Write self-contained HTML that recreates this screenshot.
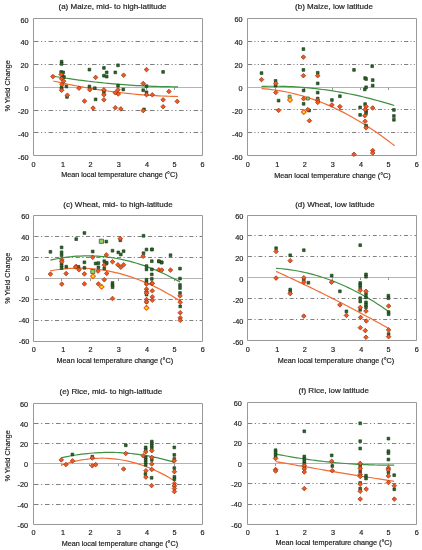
<!DOCTYPE html>
<html><head><meta charset="utf-8"><style>html,body{margin:0;padding:0;background:#fff;width:422px;height:550px;overflow:hidden}svg{display:block;will-change:transform}</style></head>
<body><svg width="422" height="550" viewBox="0 0 422 550"><rect width="422" height="550" fill="#fff"/><g font-family="Liberation Sans, sans-serif" stroke-linejoin="round"><line x1="34.00" y1="41.50" x2="202.50" y2="41.50" stroke="#808080" stroke-width="1" stroke-dasharray="4.6 2.5 1.2 2.4 1.2 2.6"/><line x1="34.00" y1="64.50" x2="202.50" y2="64.50" stroke="#808080" stroke-width="1" stroke-dasharray="4.6 2.5 1.2 2.4 1.2 2.6"/><line x1="34.00" y1="110.50" x2="202.50" y2="110.50" stroke="#808080" stroke-width="1" stroke-dasharray="4.6 2.5 1.2 2.4 1.2 2.6"/><line x1="34.00" y1="132.50" x2="202.50" y2="132.50" stroke="#808080" stroke-width="1" stroke-dasharray="4.6 2.5 1.2 2.4 1.2 2.6"/><line x1="33.60" y1="87.50" x2="202.60" y2="87.50" stroke="#b4b4b4" stroke-width="1.1"/><line x1="61.50" y1="87.50" x2="61.50" y2="90.00" stroke="#999" stroke-width="1"/><line x1="89.50" y1="87.50" x2="89.50" y2="90.00" stroke="#999" stroke-width="1"/><line x1="118.50" y1="87.50" x2="118.50" y2="90.00" stroke="#999" stroke-width="1"/><line x1="146.50" y1="87.50" x2="146.50" y2="90.00" stroke="#999" stroke-width="1"/><line x1="174.50" y1="87.50" x2="174.50" y2="90.00" stroke="#999" stroke-width="1"/><rect x="33.50" y="18.50" width="169.00" height="137.00" fill="none" stroke="#999" stroke-width="1"/><text transform="translate(28.60 22.50) scale(0.93 1)" text-anchor="end" font-size="7.9" fill="#1a1a1a" stroke="#1a1a1a" stroke-width="0.18">60</text><text transform="translate(28.60 45.40) scale(0.93 1)" text-anchor="end" font-size="7.9" fill="#1a1a1a" stroke="#1a1a1a" stroke-width="0.18">40</text><text transform="translate(28.60 68.30) scale(0.93 1)" text-anchor="end" font-size="7.9" fill="#1a1a1a" stroke="#1a1a1a" stroke-width="0.18">20</text><text transform="translate(28.60 91.20) scale(0.93 1)" text-anchor="end" font-size="7.9" fill="#1a1a1a" stroke="#1a1a1a" stroke-width="0.18">0</text><text transform="translate(28.60 114.10) scale(0.93 1)" text-anchor="end" font-size="7.9" fill="#1a1a1a" stroke="#1a1a1a" stroke-width="0.18">-20</text><text transform="translate(28.60 137.00) scale(0.93 1)" text-anchor="end" font-size="7.9" fill="#1a1a1a" stroke="#1a1a1a" stroke-width="0.18">-40</text><text transform="translate(28.60 159.90) scale(0.93 1)" text-anchor="end" font-size="7.9" fill="#1a1a1a" stroke="#1a1a1a" stroke-width="0.18">-60</text><text transform="translate(33.60 166.80) scale(0.93 1)" text-anchor="middle" font-size="7.8" fill="#1a1a1a" stroke="#1a1a1a" stroke-width="0.18">0</text><text transform="translate(63.07 166.80) scale(0.93 1)" text-anchor="middle" font-size="7.8" fill="#1a1a1a" stroke="#1a1a1a" stroke-width="0.18">1</text><text transform="translate(90.53 166.80) scale(0.93 1)" text-anchor="middle" font-size="7.8" fill="#1a1a1a" stroke="#1a1a1a" stroke-width="0.18">2</text><text transform="translate(118.70 166.80) scale(0.93 1)" text-anchor="middle" font-size="7.8" fill="#1a1a1a" stroke="#1a1a1a" stroke-width="0.18">3</text><text transform="translate(146.97 166.80) scale(0.93 1)" text-anchor="middle" font-size="7.8" fill="#1a1a1a" stroke="#1a1a1a" stroke-width="0.18">4</text><text transform="translate(174.43 166.80) scale(0.93 1)" text-anchor="middle" font-size="7.8" fill="#1a1a1a" stroke="#1a1a1a" stroke-width="0.18">5</text><text transform="translate(202.60 166.80) scale(0.93 1)" text-anchor="middle" font-size="7.8" fill="#1a1a1a" stroke="#1a1a1a" stroke-width="0.18">6</text><text x="61.20" y="177.00" font-size="7.22" fill="#1a1a1a" stroke="#1a1a1a" stroke-width="0.18">Mean local temperature change (°C)</text><text x="58.50" y="9.20" font-size="8" fill="#1a1a1a" stroke="#1a1a1a" stroke-width="0.18">(a) Maize, mid- to high-latitude</text><text x="0" y="0" transform="translate(10.3 85.90) rotate(-90)" text-anchor="middle" font-size="7.2" fill="#1a1a1a" stroke="#1a1a1a" stroke-width="0.18">% Yield Change</text><path d="M53.30 76.20 L56.50 76.73 L59.69 77.24 L62.89 77.74 L66.09 78.23 L69.29 78.70 L72.48 79.16 L75.68 79.61 L78.88 80.04 L82.08 80.46 L85.27 80.87 L88.47 81.26 L91.67 81.64 L94.87 82.00 L98.06 82.36 L101.26 82.70 L104.46 83.02 L107.66 83.33 L110.85 83.63 L114.05 83.92 L117.25 84.19 L120.45 84.45 L123.64 84.69 L126.84 84.92 L130.04 85.14 L133.24 85.35 L136.43 85.54 L139.63 85.72 L142.83 85.88 L146.03 86.03 L149.22 86.17 L152.42 86.29 L155.62 86.40 L158.82 86.50 L162.01 86.58 L165.21 86.65 L168.41 86.71 L171.61 86.75 L174.80 86.78 L178.00 86.80" fill="none" stroke="#3f9040" stroke-width="1.2"/><path d="M53.30 81.00 L56.50 81.73 L59.69 82.44 L62.89 83.14 L66.09 83.82 L69.29 84.48 L72.48 85.12 L75.68 85.74 L78.88 86.35 L82.08 86.94 L85.27 87.51 L88.47 88.07 L91.67 88.61 L94.87 89.13 L98.06 89.63 L101.26 90.12 L104.46 90.58 L107.66 91.03 L110.85 91.47 L114.05 91.88 L117.25 92.28 L120.45 92.66 L123.64 93.02 L126.84 93.36 L130.04 93.69 L133.24 94.00 L136.43 94.29 L139.63 94.57 L142.83 94.83 L146.03 95.07 L149.22 95.29 L152.42 95.49 L155.62 95.68 L158.82 95.85 L162.01 96.00 L165.21 96.14 L168.41 96.25 L171.61 96.35 L174.80 96.44 L178.00 96.50" fill="none" stroke="#f26b33" stroke-width="1.2"/><rect x="60.25" y="60.30" width="2.7" height="2.8" fill="#2a642a" stroke="#143814" stroke-width="0.6"/><rect x="60.25" y="62.50" width="2.7" height="2.8" fill="#2a642a" stroke="#143814" stroke-width="0.6"/><rect x="59.75" y="70.60" width="2.7" height="2.8" fill="#2a642a" stroke="#143814" stroke-width="0.6"/><rect x="61.85" y="71.00" width="2.7" height="2.8" fill="#2a642a" stroke="#143814" stroke-width="0.6"/><rect x="61.05" y="74.80" width="2.7" height="2.8" fill="#2a642a" stroke="#143814" stroke-width="0.6"/><rect x="62.65" y="75.60" width="2.7" height="2.8" fill="#2a642a" stroke="#143814" stroke-width="0.6"/><rect x="60.25" y="86.00" width="2.7" height="2.8" fill="#2a642a" stroke="#143814" stroke-width="0.6"/><rect x="60.25" y="87.60" width="2.7" height="2.8" fill="#2a642a" stroke="#143814" stroke-width="0.6"/><rect x="65.05" y="85.10" width="2.7" height="2.8" fill="#2a642a" stroke="#143814" stroke-width="0.6"/><rect x="65.65" y="95.50" width="2.7" height="2.8" fill="#2a642a" stroke="#143814" stroke-width="0.6"/><rect x="88.05" y="68.20" width="2.7" height="2.8" fill="#2a642a" stroke="#143814" stroke-width="0.6"/><rect x="102.55" y="66.50" width="2.7" height="2.8" fill="#2a642a" stroke="#143814" stroke-width="0.6"/><rect x="105.35" y="71.00" width="2.7" height="2.8" fill="#2a642a" stroke="#143814" stroke-width="0.6"/><rect x="102.55" y="74.30" width="2.7" height="2.8" fill="#2a642a" stroke="#143814" stroke-width="0.6"/><rect x="105.35" y="75.20" width="2.7" height="2.8" fill="#2a642a" stroke="#143814" stroke-width="0.6"/><rect x="88.05" y="85.10" width="2.7" height="2.8" fill="#2a642a" stroke="#143814" stroke-width="0.6"/><rect x="93.45" y="86.80" width="2.7" height="2.8" fill="#2a642a" stroke="#143814" stroke-width="0.6"/><rect x="102.55" y="90.90" width="2.7" height="2.8" fill="#2a642a" stroke="#143814" stroke-width="0.6"/><rect x="94.25" y="98.00" width="2.7" height="2.8" fill="#2a642a" stroke="#143814" stroke-width="0.6"/><rect x="116.65" y="63.90" width="2.7" height="2.8" fill="#2a642a" stroke="#143814" stroke-width="0.6"/><rect x="113.95" y="71.00" width="2.7" height="2.8" fill="#2a642a" stroke="#143814" stroke-width="0.6"/><rect x="161.75" y="70.50" width="2.7" height="2.8" fill="#2a642a" stroke="#143814" stroke-width="0.6"/><rect x="116.65" y="84.30" width="2.7" height="2.8" fill="#2a642a" stroke="#143814" stroke-width="0.6"/><rect x="121.95" y="88.10" width="2.7" height="2.8" fill="#2a642a" stroke="#143814" stroke-width="0.6"/><rect x="141.85" y="88.80" width="2.7" height="2.8" fill="#2a642a" stroke="#143814" stroke-width="0.6"/><rect x="145.15" y="84.80" width="2.7" height="2.8" fill="#2a642a" stroke="#143814" stroke-width="0.6"/><rect x="145.15" y="90.90" width="2.7" height="2.8" fill="#2a642a" stroke="#143814" stroke-width="0.6"/><rect x="142.65" y="108.00" width="2.7" height="2.8" fill="#2a642a" stroke="#143814" stroke-width="0.6"/><path d="M52.90 74.30 L55.20 76.60 L52.90 78.90 L50.60 76.60Z" fill="#f5581e" stroke="#8a3212" stroke-width="0.7"/><path d="M61.10 72.20 L63.40 74.50 L61.10 76.80 L58.80 74.50Z" fill="#f5581e" stroke="#8a3212" stroke-width="0.7"/><path d="M61.60 76.40 L63.90 78.70 L61.60 81.00 L59.30 78.70Z" fill="#f5581e" stroke="#8a3212" stroke-width="0.7"/><path d="M63.60 78.80 L65.90 81.10 L63.60 83.40 L61.30 81.10Z" fill="#f5581e" stroke="#8a3212" stroke-width="0.7"/><path d="M62.00 82.20 L64.30 84.50 L62.00 86.80 L59.70 84.50Z" fill="#f5581e" stroke="#8a3212" stroke-width="0.7"/><path d="M61.60 88.00 L63.90 90.30 L61.60 92.60 L59.30 90.30Z" fill="#f5581e" stroke="#8a3212" stroke-width="0.7"/><path d="M67.40 92.90 L69.70 95.20 L67.40 97.50 L65.10 95.20Z" fill="#f5581e" stroke="#8a3212" stroke-width="0.7"/><path d="M95.60 75.10 L97.90 77.40 L95.60 79.70 L93.30 77.40Z" fill="#f5581e" stroke="#8a3212" stroke-width="0.7"/><path d="M79.00 85.90 L81.30 88.20 L79.00 90.50 L76.70 88.20Z" fill="#f5581e" stroke="#8a3212" stroke-width="0.7"/><path d="M89.80 87.50 L92.10 89.80 L89.80 92.10 L87.50 89.80Z" fill="#f5581e" stroke="#8a3212" stroke-width="0.7"/><path d="M103.90 87.50 L106.20 89.80 L103.90 92.10 L101.60 89.80Z" fill="#f5581e" stroke="#8a3212" stroke-width="0.7"/><path d="M103.90 92.50 L106.20 94.80 L103.90 97.10 L101.60 94.80Z" fill="#f5581e" stroke="#8a3212" stroke-width="0.7"/><path d="M84.50 98.80 L86.80 101.10 L84.50 103.40 L82.20 101.10Z" fill="#f5581e" stroke="#8a3212" stroke-width="0.7"/><path d="M103.90 97.50 L106.20 99.80 L103.90 102.10 L101.60 99.80Z" fill="#f5581e" stroke="#8a3212" stroke-width="0.7"/><path d="M93.10 105.80 L95.40 108.10 L93.10 110.40 L90.80 108.10Z" fill="#f5581e" stroke="#8a3212" stroke-width="0.7"/><path d="M123.60 72.90 L125.90 75.20 L123.60 77.50 L121.30 75.20Z" fill="#f5581e" stroke="#8a3212" stroke-width="0.7"/><path d="M146.50 67.30 L148.80 69.60 L146.50 71.90 L144.20 69.60Z" fill="#f5581e" stroke="#8a3212" stroke-width="0.7"/><path d="M143.20 81.20 L145.50 83.50 L143.20 85.80 L140.90 83.50Z" fill="#f5581e" stroke="#8a3212" stroke-width="0.7"/><path d="M118.00 87.50 L120.30 89.80 L118.00 92.10 L115.70 89.80Z" fill="#f5581e" stroke="#8a3212" stroke-width="0.7"/><path d="M115.30 90.50 L117.60 92.80 L115.30 95.10 L113.00 92.80Z" fill="#f5581e" stroke="#8a3212" stroke-width="0.7"/><path d="M118.30 91.70 L120.60 94.00 L118.30 96.30 L116.00 94.00Z" fill="#f5581e" stroke="#8a3212" stroke-width="0.7"/><path d="M146.50 92.50 L148.80 94.80 L146.50 97.10 L144.20 94.80Z" fill="#f5581e" stroke="#8a3212" stroke-width="0.7"/><path d="M152.30 92.50 L154.60 94.80 L152.30 97.10 L150.00 94.80Z" fill="#f5581e" stroke="#8a3212" stroke-width="0.7"/><path d="M168.90 89.20 L171.20 91.50 L168.90 93.80 L166.60 91.50Z" fill="#f5581e" stroke="#8a3212" stroke-width="0.7"/><path d="M163.10 97.50 L165.40 99.80 L163.10 102.10 L160.80 99.80Z" fill="#f5581e" stroke="#8a3212" stroke-width="0.7"/><path d="M177.20 99.10 L179.50 101.40 L177.20 103.70 L174.90 101.40Z" fill="#f5581e" stroke="#8a3212" stroke-width="0.7"/><path d="M115.30 105.40 L117.60 107.70 L115.30 110.00 L113.00 107.70Z" fill="#f5581e" stroke="#8a3212" stroke-width="0.7"/><path d="M120.80 106.60 L123.10 108.90 L120.80 111.20 L118.50 108.90Z" fill="#f5581e" stroke="#8a3212" stroke-width="0.7"/><path d="M163.10 104.40 L165.40 106.70 L163.10 109.00 L160.80 106.70Z" fill="#f5581e" stroke="#8a3212" stroke-width="0.7"/><path d="M143.20 108.30 L145.50 110.60 L143.20 112.90 L140.90 110.60Z" fill="#f5581e" stroke="#8a3212" stroke-width="0.7"/></g><g font-family="Liberation Sans, sans-serif" stroke-linejoin="round"><line x1="248.00" y1="41.50" x2="416.50" y2="41.50" stroke="#808080" stroke-width="1" stroke-dasharray="4.2 2.2 1.1 2.3 1.1 2.1"/><line x1="248.00" y1="64.50" x2="416.50" y2="64.50" stroke="#808080" stroke-width="1" stroke-dasharray="4.2 2.2 1.1 2.3 1.1 2.1"/><line x1="248.00" y1="109.50" x2="416.50" y2="109.50" stroke="#808080" stroke-width="1" stroke-dasharray="4.2 2.2 1.1 2.3 1.1 2.1"/><line x1="248.00" y1="132.50" x2="416.50" y2="132.50" stroke="#808080" stroke-width="1" stroke-dasharray="4.2 2.2 1.1 2.3 1.1 2.1"/><line x1="247.70" y1="87.50" x2="416.80" y2="87.50" stroke="#b4b4b4" stroke-width="1.1"/><line x1="275.50" y1="87.50" x2="275.50" y2="90.00" stroke="#999" stroke-width="1"/><line x1="304.50" y1="87.50" x2="304.50" y2="90.00" stroke="#999" stroke-width="1"/><line x1="332.50" y1="87.50" x2="332.50" y2="90.00" stroke="#999" stroke-width="1"/><line x1="360.50" y1="87.50" x2="360.50" y2="90.00" stroke="#999" stroke-width="1"/><line x1="388.50" y1="87.50" x2="388.50" y2="90.00" stroke="#999" stroke-width="1"/><rect x="247.50" y="18.50" width="169.00" height="137.00" fill="none" stroke="#999" stroke-width="1"/><text transform="translate(242.70 21.90) scale(0.93 1)" text-anchor="end" font-size="7.9" fill="#1a1a1a" stroke="#1a1a1a" stroke-width="0.18">60</text><text transform="translate(242.70 44.83) scale(0.93 1)" text-anchor="end" font-size="7.9" fill="#1a1a1a" stroke="#1a1a1a" stroke-width="0.18">40</text><text transform="translate(242.70 67.77) scale(0.93 1)" text-anchor="end" font-size="7.9" fill="#1a1a1a" stroke="#1a1a1a" stroke-width="0.18">20</text><text transform="translate(242.70 90.70) scale(0.93 1)" text-anchor="end" font-size="7.9" fill="#1a1a1a" stroke="#1a1a1a" stroke-width="0.18">0</text><text transform="translate(242.70 113.63) scale(0.93 1)" text-anchor="end" font-size="7.9" fill="#1a1a1a" stroke="#1a1a1a" stroke-width="0.18">-20</text><text transform="translate(242.70 136.57) scale(0.93 1)" text-anchor="end" font-size="7.9" fill="#1a1a1a" stroke="#1a1a1a" stroke-width="0.18">-40</text><text transform="translate(242.70 159.50) scale(0.93 1)" text-anchor="end" font-size="7.9" fill="#1a1a1a" stroke="#1a1a1a" stroke-width="0.18">-60</text><text transform="translate(247.70 166.80) scale(0.93 1)" text-anchor="middle" font-size="7.8" fill="#1a1a1a" stroke="#1a1a1a" stroke-width="0.18">0</text><text transform="translate(277.18 166.80) scale(0.93 1)" text-anchor="middle" font-size="7.8" fill="#1a1a1a" stroke="#1a1a1a" stroke-width="0.18">1</text><text transform="translate(304.67 166.80) scale(0.93 1)" text-anchor="middle" font-size="7.8" fill="#1a1a1a" stroke="#1a1a1a" stroke-width="0.18">2</text><text transform="translate(332.85 166.80) scale(0.93 1)" text-anchor="middle" font-size="7.8" fill="#1a1a1a" stroke="#1a1a1a" stroke-width="0.18">3</text><text transform="translate(361.13 166.80) scale(0.93 1)" text-anchor="middle" font-size="7.8" fill="#1a1a1a" stroke="#1a1a1a" stroke-width="0.18">4</text><text transform="translate(388.62 166.80) scale(0.93 1)" text-anchor="middle" font-size="7.8" fill="#1a1a1a" stroke="#1a1a1a" stroke-width="0.18">5</text><text transform="translate(416.80 166.80) scale(0.93 1)" text-anchor="middle" font-size="7.8" fill="#1a1a1a" stroke="#1a1a1a" stroke-width="0.18">6</text><text x="274.30" y="177.50" font-size="7.22" fill="#1a1a1a" stroke="#1a1a1a" stroke-width="0.18">Mean local temperature change (°C)</text><text x="295.10" y="8.90" font-size="8" fill="#1a1a1a" stroke="#1a1a1a" stroke-width="0.18">(b) Maize, low latitude</text><path d="M261.50 86.40 L264.90 86.31 L268.31 86.26 L271.71 86.23 L275.11 86.24 L278.51 86.27 L281.92 86.34 L285.32 86.43 L288.72 86.56 L292.12 86.71 L295.53 86.90 L298.93 87.12 L302.33 87.36 L305.73 87.64 L309.14 87.95 L312.54 88.29 L315.94 88.66 L319.34 89.05 L322.75 89.48 L326.15 89.94 L329.55 90.43 L332.95 90.95 L336.36 91.50 L339.76 92.08 L343.16 92.70 L346.56 93.34 L349.97 94.01 L353.37 94.71 L356.77 95.44 L360.17 96.21 L363.58 97.00 L366.98 97.82 L370.38 98.68 L373.78 99.56 L377.19 100.47 L380.59 101.42 L383.99 102.39 L387.39 103.40 L390.80 104.43 L394.20 105.50" fill="none" stroke="#3f9040" stroke-width="1.2"/><path d="M261.50 88.60 L264.91 88.86 L268.33 89.19 L271.74 89.57 L275.15 90.03 L278.56 90.54 L281.98 91.12 L285.39 91.76 L288.80 92.47 L292.22 93.24 L295.63 94.07 L299.04 94.96 L302.45 95.92 L305.87 96.95 L309.28 98.03 L312.69 99.18 L316.11 100.39 L319.52 101.67 L322.93 103.01 L326.34 104.41 L329.76 105.88 L333.17 107.41 L336.58 109.00 L339.99 110.66 L343.41 112.38 L346.82 114.17 L350.23 116.01 L353.65 117.92 L357.06 119.90 L360.47 121.94 L363.88 124.04 L367.30 126.20 L370.71 128.43 L374.12 130.72 L377.54 133.07 L380.95 135.49 L384.36 137.97 L387.77 140.52 L391.19 143.13 L394.60 145.80" fill="none" stroke="#f26b33" stroke-width="1.2"/><rect x="302.05" y="47.70" width="2.7" height="2.8" fill="#2a642a" stroke="#143814" stroke-width="0.6"/><rect x="302.05" y="68.50" width="2.7" height="2.8" fill="#2a642a" stroke="#143814" stroke-width="0.6"/><rect x="260.15" y="71.70" width="2.7" height="2.8" fill="#2a642a" stroke="#143814" stroke-width="0.6"/><rect x="316.35" y="71.40" width="2.7" height="2.8" fill="#2a642a" stroke="#143814" stroke-width="0.6"/><rect x="274.25" y="79.50" width="2.7" height="2.8" fill="#2a642a" stroke="#143814" stroke-width="0.6"/><rect x="274.25" y="84.20" width="2.7" height="2.8" fill="#2a642a" stroke="#143814" stroke-width="0.6"/><rect x="316.35" y="82.00" width="2.7" height="2.8" fill="#2a642a" stroke="#143814" stroke-width="0.6"/><rect x="302.25" y="89.00" width="2.7" height="2.8" fill="#2a642a" stroke="#143814" stroke-width="0.6"/><rect x="316.35" y="91.20" width="2.7" height="2.8" fill="#2a642a" stroke="#143814" stroke-width="0.6"/><rect x="277.25" y="99.20" width="2.7" height="2.8" fill="#2a642a" stroke="#143814" stroke-width="0.6"/><rect x="302.25" y="102.40" width="2.7" height="2.8" fill="#2a642a" stroke="#143814" stroke-width="0.6"/><rect x="316.35" y="97.20" width="2.7" height="2.8" fill="#2a642a" stroke="#143814" stroke-width="0.6"/><rect x="307.75" y="109.10" width="2.7" height="2.8" fill="#2a642a" stroke="#143814" stroke-width="0.6"/><rect x="370.85" y="64.80" width="2.7" height="2.8" fill="#2a642a" stroke="#143814" stroke-width="0.6"/><rect x="352.65" y="68.50" width="2.7" height="2.8" fill="#2a642a" stroke="#143814" stroke-width="0.6"/><rect x="363.75" y="76.70" width="2.7" height="2.8" fill="#2a642a" stroke="#143814" stroke-width="0.6"/><rect x="364.75" y="77.60" width="2.7" height="2.8" fill="#2a642a" stroke="#143814" stroke-width="0.6"/><rect x="371.35" y="78.70" width="2.7" height="2.8" fill="#2a642a" stroke="#143814" stroke-width="0.6"/><rect x="371.35" y="84.20" width="2.7" height="2.8" fill="#2a642a" stroke="#143814" stroke-width="0.6"/><rect x="364.75" y="85.90" width="2.7" height="2.8" fill="#2a642a" stroke="#143814" stroke-width="0.6"/><rect x="363.45" y="88.00" width="2.7" height="2.8" fill="#2a642a" stroke="#143814" stroke-width="0.6"/><rect x="338.55" y="94.80" width="2.7" height="2.8" fill="#2a642a" stroke="#143814" stroke-width="0.6"/><rect x="330.55" y="98.60" width="2.7" height="2.8" fill="#2a642a" stroke="#143814" stroke-width="0.6"/><rect x="358.75" y="106.00" width="2.7" height="2.8" fill="#2a642a" stroke="#143814" stroke-width="0.6"/><rect x="363.75" y="102.70" width="2.7" height="2.8" fill="#2a642a" stroke="#143814" stroke-width="0.6"/><rect x="364.75" y="109.30" width="2.7" height="2.8" fill="#2a642a" stroke="#143814" stroke-width="0.6"/><rect x="364.75" y="111.80" width="2.7" height="2.8" fill="#2a642a" stroke="#143814" stroke-width="0.6"/><rect x="358.75" y="113.50" width="2.7" height="2.8" fill="#2a642a" stroke="#143814" stroke-width="0.6"/><rect x="364.75" y="124.30" width="2.7" height="2.8" fill="#2a642a" stroke="#143814" stroke-width="0.6"/><rect x="392.55" y="108.50" width="2.7" height="2.8" fill="#2a642a" stroke="#143814" stroke-width="0.6"/><rect x="392.55" y="114.60" width="2.7" height="2.8" fill="#2a642a" stroke="#143814" stroke-width="0.6"/><rect x="392.55" y="118.40" width="2.7" height="2.8" fill="#2a642a" stroke="#143814" stroke-width="0.6"/><rect x="288.10" y="95.20" width="3.00" height="3.00" fill="#96cc6a" stroke="#2e6a2e" stroke-width="0.8"/><rect x="306.30" y="97.00" width="3.00" height="3.00" fill="#96cc6a" stroke="#2e6a2e" stroke-width="0.8"/><path d="M303.40 54.80 L305.70 57.10 L303.40 59.40 L301.10 57.10Z" fill="#f5581e" stroke="#8a3212" stroke-width="0.7"/><path d="M261.50 77.30 L263.80 79.60 L261.50 81.90 L259.20 79.60Z" fill="#f5581e" stroke="#8a3212" stroke-width="0.7"/><path d="M303.40 73.40 L305.70 75.70 L303.40 78.00 L301.10 75.70Z" fill="#f5581e" stroke="#8a3212" stroke-width="0.7"/><path d="M317.70 73.40 L320.00 75.70 L317.70 78.00 L315.40 75.70Z" fill="#f5581e" stroke="#8a3212" stroke-width="0.7"/><path d="M275.80 81.10 L278.10 83.40 L275.80 85.70 L273.50 83.40Z" fill="#f5581e" stroke="#8a3212" stroke-width="0.7"/><path d="M275.80 90.20 L278.10 92.50 L275.80 94.80 L273.50 92.50Z" fill="#f5581e" stroke="#8a3212" stroke-width="0.7"/><path d="M303.60 96.40 L305.90 98.70 L303.60 101.00 L301.30 98.70Z" fill="#f5581e" stroke="#8a3212" stroke-width="0.7"/><path d="M317.70 98.00 L320.00 100.30 L317.70 102.60 L315.40 100.30Z" fill="#f5581e" stroke="#8a3212" stroke-width="0.7"/><path d="M317.70 100.10 L320.00 102.40 L317.70 104.70 L315.40 102.40Z" fill="#f5581e" stroke="#8a3212" stroke-width="0.7"/><path d="M278.60 108.10 L280.90 110.40 L278.60 112.70 L276.30 110.40Z" fill="#f5581e" stroke="#8a3212" stroke-width="0.7"/><path d="M307.80 107.30 L310.10 109.60 L307.80 111.90 L305.50 109.60Z" fill="#f5581e" stroke="#8a3212" stroke-width="0.7"/><path d="M309.40 118.40 L311.70 120.70 L309.40 123.00 L307.10 120.70Z" fill="#f5581e" stroke="#8a3212" stroke-width="0.7"/><path d="M331.90 102.60 L334.20 104.90 L331.90 107.20 L329.60 104.90Z" fill="#f5581e" stroke="#8a3212" stroke-width="0.7"/><path d="M339.90 104.30 L342.20 106.60 L339.90 108.90 L337.60 106.60Z" fill="#f5581e" stroke="#8a3212" stroke-width="0.7"/><path d="M366.10 104.30 L368.40 106.60 L366.10 108.90 L363.80 106.60Z" fill="#f5581e" stroke="#8a3212" stroke-width="0.7"/><path d="M365.10 107.30 L367.40 109.60 L365.10 111.90 L362.80 109.60Z" fill="#f5581e" stroke="#8a3212" stroke-width="0.7"/><path d="M372.70 105.60 L375.00 107.90 L372.70 110.20 L370.40 107.90Z" fill="#f5581e" stroke="#8a3212" stroke-width="0.7"/><path d="M364.80 113.40 L367.10 115.70 L364.80 118.00 L362.50 115.70Z" fill="#f5581e" stroke="#8a3212" stroke-width="0.7"/><path d="M365.10 118.90 L367.40 121.20 L365.10 123.50 L362.80 121.20Z" fill="#f5581e" stroke="#8a3212" stroke-width="0.7"/><path d="M366.10 125.50 L368.40 127.80 L366.10 130.10 L363.80 127.80Z" fill="#f5581e" stroke="#8a3212" stroke-width="0.7"/><path d="M354.00 152.00 L356.30 154.30 L354.00 156.60 L351.70 154.30Z" fill="#f5581e" stroke="#8a3212" stroke-width="0.7"/><path d="M372.70 148.20 L375.00 150.50 L372.70 152.80 L370.40 150.50Z" fill="#f5581e" stroke="#8a3212" stroke-width="0.7"/><path d="M372.70 150.70 L375.00 153.00 L372.70 155.30 L370.40 153.00Z" fill="#f5581e" stroke="#8a3212" stroke-width="0.7"/><path d="M290.00 97.50 L292.40 99.90 L290.00 102.30 L287.60 99.90Z" fill="#fff000" stroke="#f26020" stroke-width="1.2"/><path d="M303.80 109.60 L306.20 112.00 L303.80 114.40 L301.40 112.00Z" fill="#fff000" stroke="#f26020" stroke-width="1.2"/></g><g font-family="Liberation Sans, sans-serif" stroke-linejoin="round"><line x1="34.30" y1="236.50" x2="202.50" y2="236.50" stroke="#808080" stroke-width="1" stroke-dasharray="4.2 2.4 1.2 2.53"/><line x1="34.30" y1="257.50" x2="202.50" y2="257.50" stroke="#808080" stroke-width="1" stroke-dasharray="4.2 2.4 1.2 2.53"/><line x1="34.30" y1="299.50" x2="202.50" y2="299.50" stroke="#808080" stroke-width="1" stroke-dasharray="4.2 2.4 1.2 2.53"/><line x1="34.30" y1="320.50" x2="202.50" y2="320.50" stroke="#808080" stroke-width="1" stroke-dasharray="4.2 2.4 1.2 2.53"/><line x1="33.70" y1="278.50" x2="202.70" y2="278.50" stroke="#b4b4b4" stroke-width="1.1"/><line x1="61.50" y1="278.50" x2="61.50" y2="281.00" stroke="#999" stroke-width="1"/><line x1="90.50" y1="278.50" x2="90.50" y2="281.00" stroke="#999" stroke-width="1"/><line x1="118.50" y1="278.50" x2="118.50" y2="281.00" stroke="#999" stroke-width="1"/><line x1="146.50" y1="278.50" x2="146.50" y2="281.00" stroke="#999" stroke-width="1"/><line x1="174.50" y1="278.50" x2="174.50" y2="281.00" stroke="#999" stroke-width="1"/><rect x="33.50" y="215.50" width="169.00" height="126.00" fill="none" stroke="#999" stroke-width="1"/><text transform="translate(29.30 218.60) scale(0.93 1)" text-anchor="end" font-size="7.9" fill="#1a1a1a" stroke="#1a1a1a" stroke-width="0.18">60</text><text transform="translate(29.30 239.55) scale(0.93 1)" text-anchor="end" font-size="7.9" fill="#1a1a1a" stroke="#1a1a1a" stroke-width="0.18">40</text><text transform="translate(29.30 260.50) scale(0.93 1)" text-anchor="end" font-size="7.9" fill="#1a1a1a" stroke="#1a1a1a" stroke-width="0.18">20</text><text transform="translate(29.30 281.45) scale(0.93 1)" text-anchor="end" font-size="7.9" fill="#1a1a1a" stroke="#1a1a1a" stroke-width="0.18">0</text><text transform="translate(29.30 302.40) scale(0.93 1)" text-anchor="end" font-size="7.9" fill="#1a1a1a" stroke="#1a1a1a" stroke-width="0.18">-20</text><text transform="translate(29.30 323.35) scale(0.93 1)" text-anchor="end" font-size="7.9" fill="#1a1a1a" stroke="#1a1a1a" stroke-width="0.18">-40</text><text transform="translate(29.30 344.30) scale(0.93 1)" text-anchor="end" font-size="7.9" fill="#1a1a1a" stroke="#1a1a1a" stroke-width="0.18">-60</text><text transform="translate(33.70 351.60) scale(0.93 1)" text-anchor="middle" font-size="7.8" fill="#1a1a1a" stroke="#1a1a1a" stroke-width="0.18">0</text><text transform="translate(63.17 351.60) scale(0.93 1)" text-anchor="middle" font-size="7.8" fill="#1a1a1a" stroke="#1a1a1a" stroke-width="0.18">1</text><text transform="translate(90.63 351.60) scale(0.93 1)" text-anchor="middle" font-size="7.8" fill="#1a1a1a" stroke="#1a1a1a" stroke-width="0.18">2</text><text transform="translate(118.80 351.60) scale(0.93 1)" text-anchor="middle" font-size="7.8" fill="#1a1a1a" stroke="#1a1a1a" stroke-width="0.18">3</text><text transform="translate(147.07 351.60) scale(0.93 1)" text-anchor="middle" font-size="7.8" fill="#1a1a1a" stroke="#1a1a1a" stroke-width="0.18">4</text><text transform="translate(174.53 351.60) scale(0.93 1)" text-anchor="middle" font-size="7.8" fill="#1a1a1a" stroke="#1a1a1a" stroke-width="0.18">5</text><text transform="translate(202.70 351.60) scale(0.93 1)" text-anchor="middle" font-size="7.8" fill="#1a1a1a" stroke="#1a1a1a" stroke-width="0.18">6</text><text x="56.60" y="362.50" font-size="7.22" fill="#1a1a1a" stroke="#1a1a1a" stroke-width="0.18">Mean local temperature change (°C)</text><text x="63.30" y="207.30" font-size="8" fill="#1a1a1a" stroke="#1a1a1a" stroke-width="0.18">(c) Wheat, mid- to high-latitude</text><text x="0" y="0" transform="translate(9.7 278.20) rotate(-90)" text-anchor="middle" font-size="7.2" fill="#1a1a1a" stroke="#1a1a1a" stroke-width="0.18">% Yield Change</text><path d="M50.40 260.10 L53.72 259.38 L57.05 258.72 L60.37 258.14 L63.69 257.62 L67.02 257.17 L70.34 256.78 L73.66 256.46 L76.98 256.22 L80.31 256.03 L83.63 255.92 L86.95 255.87 L90.28 255.89 L93.60 255.98 L96.92 256.14 L100.25 256.36 L103.57 256.65 L106.89 257.01 L110.22 257.44 L113.54 257.93 L116.86 258.49 L120.18 259.12 L123.51 259.82 L126.83 260.58 L130.15 261.42 L133.48 262.32 L136.80 263.28 L140.12 264.32 L143.45 265.42 L146.77 266.59 L150.09 267.83 L153.42 269.13 L156.74 270.50 L160.06 271.94 L163.38 273.45 L166.71 275.02 L170.03 276.67 L173.35 278.38 L176.68 280.15 L180.00 282.00" fill="none" stroke="#3f9040" stroke-width="1.2"/><path d="M50.20 270.80 L53.53 270.23 L56.86 269.73 L60.18 269.30 L63.51 268.94 L66.84 268.65 L70.17 268.43 L73.50 268.28 L76.83 268.21 L80.15 268.20 L83.48 268.27 L86.81 268.40 L90.14 268.61 L93.47 268.89 L96.79 269.24 L100.12 269.66 L103.45 270.15 L106.78 270.71 L110.11 271.34 L113.44 272.05 L116.76 272.82 L120.09 273.66 L123.42 274.58 L126.75 275.57 L130.08 276.63 L133.41 277.75 L136.73 278.95 L140.06 280.22 L143.39 281.57 L146.72 282.98 L150.05 284.46 L153.37 286.02 L156.70 287.64 L160.03 289.34 L163.36 291.10 L166.69 292.94 L170.02 294.85 L173.34 296.83 L176.67 298.88 L180.00 301.00" fill="none" stroke="#f26b33" stroke-width="1.2"/><rect x="83.05" y="231.60" width="2.7" height="2.8" fill="#2a642a" stroke="#143814" stroke-width="0.6"/><rect x="74.85" y="237.70" width="2.7" height="2.8" fill="#2a642a" stroke="#143814" stroke-width="0.6"/><rect x="104.95" y="240.20" width="2.7" height="2.8" fill="#2a642a" stroke="#143814" stroke-width="0.6"/><rect x="49.05" y="250.40" width="2.7" height="2.8" fill="#2a642a" stroke="#143814" stroke-width="0.6"/><rect x="60.25" y="246.00" width="2.7" height="2.8" fill="#2a642a" stroke="#143814" stroke-width="0.6"/><rect x="60.25" y="250.90" width="2.7" height="2.8" fill="#2a642a" stroke="#143814" stroke-width="0.6"/><rect x="60.25" y="253.80" width="2.7" height="2.8" fill="#2a642a" stroke="#143814" stroke-width="0.6"/><rect x="60.25" y="261.80" width="2.7" height="2.8" fill="#2a642a" stroke="#143814" stroke-width="0.6"/><rect x="60.25" y="264.20" width="2.7" height="2.8" fill="#2a642a" stroke="#143814" stroke-width="0.6"/><rect x="60.25" y="266.60" width="2.7" height="2.8" fill="#2a642a" stroke="#143814" stroke-width="0.6"/><rect x="64.95" y="265.30" width="2.7" height="2.8" fill="#2a642a" stroke="#143814" stroke-width="0.6"/><rect x="91.35" y="250.10" width="2.7" height="2.8" fill="#2a642a" stroke="#143814" stroke-width="0.6"/><rect x="83.05" y="260.90" width="2.7" height="2.8" fill="#2a642a" stroke="#143814" stroke-width="0.6"/><rect x="77.15" y="265.40" width="2.7" height="2.8" fill="#2a642a" stroke="#143814" stroke-width="0.6"/><rect x="83.05" y="266.40" width="2.7" height="2.8" fill="#2a642a" stroke="#143814" stroke-width="0.6"/><rect x="94.25" y="262.10" width="2.7" height="2.8" fill="#2a642a" stroke="#143814" stroke-width="0.6"/><rect x="97.05" y="261.70" width="2.7" height="2.8" fill="#2a642a" stroke="#143814" stroke-width="0.6"/><rect x="102.95" y="259.80" width="2.7" height="2.8" fill="#2a642a" stroke="#143814" stroke-width="0.6"/><rect x="104.95" y="262.10" width="2.7" height="2.8" fill="#2a642a" stroke="#143814" stroke-width="0.6"/><rect x="97.05" y="265.90" width="2.7" height="2.8" fill="#2a642a" stroke="#143814" stroke-width="0.6"/><rect x="102.95" y="267.00" width="2.7" height="2.8" fill="#2a642a" stroke="#143814" stroke-width="0.6"/><rect x="142.15" y="234.40" width="2.7" height="2.8" fill="#2a642a" stroke="#143814" stroke-width="0.6"/><rect x="118.95" y="238.90" width="2.7" height="2.8" fill="#2a642a" stroke="#143814" stroke-width="0.6"/><rect x="111.15" y="249.30" width="2.7" height="2.8" fill="#2a642a" stroke="#143814" stroke-width="0.6"/><rect x="116.95" y="251.00" width="2.7" height="2.8" fill="#2a642a" stroke="#143814" stroke-width="0.6"/><rect x="119.45" y="253.10" width="2.7" height="2.8" fill="#2a642a" stroke="#143814" stroke-width="0.6"/><rect x="122.25" y="249.80" width="2.7" height="2.8" fill="#2a642a" stroke="#143814" stroke-width="0.6"/><rect x="145.15" y="248.10" width="2.7" height="2.8" fill="#2a642a" stroke="#143814" stroke-width="0.6"/><rect x="150.45" y="248.10" width="2.7" height="2.8" fill="#2a642a" stroke="#143814" stroke-width="0.6"/><rect x="142.15" y="251.80" width="2.7" height="2.8" fill="#2a642a" stroke="#143814" stroke-width="0.6"/><rect x="169.15" y="253.80" width="2.7" height="2.8" fill="#2a642a" stroke="#143814" stroke-width="0.6"/><rect x="150.45" y="259.80" width="2.7" height="2.8" fill="#2a642a" stroke="#143814" stroke-width="0.6"/><rect x="157.55" y="259.80" width="2.7" height="2.8" fill="#2a642a" stroke="#143814" stroke-width="0.6"/><rect x="160.35" y="260.90" width="2.7" height="2.8" fill="#2a642a" stroke="#143814" stroke-width="0.6"/><rect x="145.15" y="264.70" width="2.7" height="2.8" fill="#2a642a" stroke="#143814" stroke-width="0.6"/><rect x="145.15" y="268.00" width="2.7" height="2.8" fill="#2a642a" stroke="#143814" stroke-width="0.6"/><rect x="150.45" y="268.00" width="2.7" height="2.8" fill="#2a642a" stroke="#143814" stroke-width="0.6"/><rect x="150.45" y="273.00" width="2.7" height="2.8" fill="#2a642a" stroke="#143814" stroke-width="0.6"/><rect x="145.15" y="278.30" width="2.7" height="2.8" fill="#2a642a" stroke="#143814" stroke-width="0.6"/><rect x="150.45" y="277.50" width="2.7" height="2.8" fill="#2a642a" stroke="#143814" stroke-width="0.6"/><rect x="105.35" y="261.40" width="2.7" height="2.8" fill="#2a642a" stroke="#143814" stroke-width="0.6"/><rect x="111.15" y="281.60" width="2.7" height="2.8" fill="#2a642a" stroke="#143814" stroke-width="0.6"/><rect x="111.15" y="283.90" width="2.7" height="2.8" fill="#2a642a" stroke="#143814" stroke-width="0.6"/><rect x="111.25" y="285.80" width="2.7" height="2.8" fill="#2a642a" stroke="#143814" stroke-width="0.6"/><rect x="145.15" y="281.10" width="2.7" height="2.8" fill="#2a642a" stroke="#143814" stroke-width="0.6"/><rect x="145.15" y="293.20" width="2.7" height="2.8" fill="#2a642a" stroke="#143814" stroke-width="0.6"/><rect x="145.15" y="300.50" width="2.7" height="2.8" fill="#2a642a" stroke="#143814" stroke-width="0.6"/><rect x="150.65" y="248.00" width="2.7" height="2.8" fill="#2a642a" stroke="#143814" stroke-width="0.6"/><rect x="157.65" y="260.00" width="2.7" height="2.8" fill="#2a642a" stroke="#143814" stroke-width="0.6"/><rect x="160.25" y="261.20" width="2.7" height="2.8" fill="#2a642a" stroke="#143814" stroke-width="0.6"/><rect x="178.65" y="267.20" width="2.7" height="2.8" fill="#2a642a" stroke="#143814" stroke-width="0.6"/><rect x="178.65" y="277.20" width="2.7" height="2.8" fill="#2a642a" stroke="#143814" stroke-width="0.6"/><rect x="178.65" y="283.60" width="2.7" height="2.8" fill="#2a642a" stroke="#143814" stroke-width="0.6"/><rect x="178.65" y="286.60" width="2.7" height="2.8" fill="#2a642a" stroke="#143814" stroke-width="0.6"/><rect x="178.65" y="291.60" width="2.7" height="2.8" fill="#2a642a" stroke="#143814" stroke-width="0.6"/><rect x="178.85" y="305.00" width="2.7" height="2.8" fill="#2a642a" stroke="#143814" stroke-width="0.6"/><rect x="99.30" y="239.20" width="4.20" height="4.20" fill="#96cc6a" stroke="#2e6a2e" stroke-width="0.8"/><rect x="90.80" y="269.50" width="4.00" height="4.00" fill="#96cc6a" stroke="#2e6a2e" stroke-width="0.8"/><path d="M61.80 257.60 L64.10 259.90 L61.80 262.20 L59.50 259.90Z" fill="#f5581e" stroke="#8a3212" stroke-width="0.7"/><path d="M61.80 259.30 L64.10 261.60 L61.80 263.90 L59.50 261.60Z" fill="#f5581e" stroke="#8a3212" stroke-width="0.7"/><path d="M106.30 252.60 L108.60 254.90 L106.30 257.20 L104.00 254.90Z" fill="#f5581e" stroke="#8a3212" stroke-width="0.7"/><path d="M92.70 255.00 L95.00 257.30 L92.70 259.60 L90.40 257.30Z" fill="#f5581e" stroke="#8a3212" stroke-width="0.7"/><path d="M76.20 264.20 L78.50 266.50 L76.20 268.80 L73.90 266.50Z" fill="#f5581e" stroke="#8a3212" stroke-width="0.7"/><path d="M79.00 267.50 L81.30 269.80 L79.00 272.10 L76.70 269.80Z" fill="#f5581e" stroke="#8a3212" stroke-width="0.7"/><path d="M98.00 268.80 L100.30 271.10 L98.00 273.40 L95.70 271.10Z" fill="#f5581e" stroke="#8a3212" stroke-width="0.7"/><path d="M104.30 262.80 L106.60 265.10 L104.30 267.40 L102.00 265.10Z" fill="#f5581e" stroke="#8a3212" stroke-width="0.7"/><path d="M50.40 271.80 L52.70 274.10 L50.40 276.40 L48.10 274.10Z" fill="#f5581e" stroke="#8a3212" stroke-width="0.7"/><path d="M66.10 271.30 L68.40 273.60 L66.10 275.90 L63.80 273.60Z" fill="#f5581e" stroke="#8a3212" stroke-width="0.7"/><path d="M84.40 271.60 L86.70 273.90 L84.40 276.20 L82.10 273.90Z" fill="#f5581e" stroke="#8a3212" stroke-width="0.7"/><path d="M106.70 271.10 L109.00 273.40 L106.70 275.70 L104.40 273.40Z" fill="#f5581e" stroke="#8a3212" stroke-width="0.7"/><path d="M61.80 281.80 L64.10 284.10 L61.80 286.40 L59.50 284.10Z" fill="#f5581e" stroke="#8a3212" stroke-width="0.7"/><path d="M84.40 281.60 L86.70 283.90 L84.40 286.20 L82.10 283.90Z" fill="#f5581e" stroke="#8a3212" stroke-width="0.7"/><path d="M98.40 281.60 L100.70 283.90 L98.40 286.20 L96.10 283.90Z" fill="#f5581e" stroke="#8a3212" stroke-width="0.7"/><path d="M104.30 277.40 L106.60 279.70 L104.30 282.00 L102.00 279.70Z" fill="#f5581e" stroke="#8a3212" stroke-width="0.7"/><path d="M75.60 264.70 L77.90 267.00 L75.60 269.30 L73.30 267.00Z" fill="#f5581e" stroke="#8a3212" stroke-width="0.7"/><path d="M120.30 236.30 L122.60 238.60 L120.30 240.90 L118.00 238.60Z" fill="#f5581e" stroke="#8a3212" stroke-width="0.7"/><path d="M143.10 253.90 L145.40 256.20 L143.10 258.50 L140.80 256.20Z" fill="#f5581e" stroke="#8a3212" stroke-width="0.7"/><path d="M112.50 259.50 L114.80 261.80 L112.50 264.10 L110.20 261.80Z" fill="#f5581e" stroke="#8a3212" stroke-width="0.7"/><path d="M117.90 262.50 L120.20 264.80 L117.90 267.10 L115.60 264.80Z" fill="#f5581e" stroke="#8a3212" stroke-width="0.7"/><path d="M120.80 265.00 L123.10 267.30 L120.80 269.60 L118.50 267.30Z" fill="#f5581e" stroke="#8a3212" stroke-width="0.7"/><path d="M123.60 262.50 L125.90 264.80 L123.60 267.10 L121.30 264.80Z" fill="#f5581e" stroke="#8a3212" stroke-width="0.7"/><path d="M158.90 267.50 L161.20 269.80 L158.90 272.10 L156.60 269.80Z" fill="#f5581e" stroke="#8a3212" stroke-width="0.7"/><path d="M161.70 267.80 L164.00 270.10 L161.70 272.40 L159.40 270.10Z" fill="#f5581e" stroke="#8a3212" stroke-width="0.7"/><path d="M170.50 267.80 L172.80 270.10 L170.50 272.40 L168.20 270.10Z" fill="#f5581e" stroke="#8a3212" stroke-width="0.7"/><path d="M151.80 281.10 L154.10 283.40 L151.80 285.70 L149.50 283.40Z" fill="#f5581e" stroke="#8a3212" stroke-width="0.7"/><path d="M112.50 296.20 L114.80 298.50 L112.50 300.80 L110.20 298.50Z" fill="#f5581e" stroke="#8a3212" stroke-width="0.7"/><path d="M146.50 286.80 L148.80 289.10 L146.50 291.40 L144.20 289.10Z" fill="#f5581e" stroke="#8a3212" stroke-width="0.7"/><path d="M146.50 289.30 L148.80 291.60 L146.50 293.90 L144.20 291.60Z" fill="#f5581e" stroke="#8a3212" stroke-width="0.7"/><path d="M146.50 290.90 L148.80 293.20 L146.50 295.50 L144.20 293.20Z" fill="#f5581e" stroke="#8a3212" stroke-width="0.7"/><path d="M146.50 297.20 L148.80 299.50 L146.50 301.80 L144.20 299.50Z" fill="#f5581e" stroke="#8a3212" stroke-width="0.7"/><path d="M146.50 299.60 L148.80 301.90 L146.50 304.20 L144.20 301.90Z" fill="#f5581e" stroke="#8a3212" stroke-width="0.7"/><path d="M152.30 281.00 L154.60 283.30 L152.30 285.60 L150.00 283.30Z" fill="#f5581e" stroke="#8a3212" stroke-width="0.7"/><path d="M152.30 288.50 L154.60 290.80 L152.30 293.10 L150.00 290.80Z" fill="#f5581e" stroke="#8a3212" stroke-width="0.7"/><path d="M152.30 294.60 L154.60 296.90 L152.30 299.20 L150.00 296.90Z" fill="#f5581e" stroke="#8a3212" stroke-width="0.7"/><path d="M152.30 297.90 L154.60 300.20 L152.30 302.50 L150.00 300.20Z" fill="#f5581e" stroke="#8a3212" stroke-width="0.7"/><path d="M146.50 281.80 L148.80 284.10 L146.50 286.40 L144.20 284.10Z" fill="#f5581e" stroke="#8a3212" stroke-width="0.7"/><path d="M180.00 293.70 L182.30 296.00 L180.00 298.30 L177.70 296.00Z" fill="#f5581e" stroke="#8a3212" stroke-width="0.7"/><path d="M180.20 300.00 L182.50 302.30 L180.20 304.60 L177.90 302.30Z" fill="#f5581e" stroke="#8a3212" stroke-width="0.7"/><path d="M180.20 310.40 L182.50 312.70 L180.20 315.00 L177.90 312.70Z" fill="#f5581e" stroke="#8a3212" stroke-width="0.7"/><path d="M180.20 315.50 L182.50 317.80 L180.20 320.10 L177.90 317.80Z" fill="#f5581e" stroke="#8a3212" stroke-width="0.7"/><path d="M180.20 318.00 L182.50 320.30 L180.20 322.60 L177.90 320.30Z" fill="#f5581e" stroke="#8a3212" stroke-width="0.7"/><path d="M93.00 273.80 L95.40 276.20 L93.00 278.60 L90.60 276.20Z" fill="#fff000" stroke="#f26020" stroke-width="1.2"/><path d="M101.60 284.40 L104.00 286.80 L101.60 289.20 L99.20 286.80Z" fill="#fff000" stroke="#f26020" stroke-width="1.2"/><path d="M146.50 305.40 L148.90 307.80 L146.50 310.20 L144.10 307.80Z" fill="#fff000" stroke="#f26020" stroke-width="1.2"/></g><g font-family="Liberation Sans, sans-serif" stroke-linejoin="round"><line x1="248.00" y1="235.50" x2="416.50" y2="235.50" stroke="#808080" stroke-width="1" stroke-dasharray="4.0 2.4 1.2 2.8"/><line x1="248.00" y1="256.50" x2="416.50" y2="256.50" stroke="#808080" stroke-width="1" stroke-dasharray="4.0 2.4 1.2 2.8"/><line x1="248.00" y1="298.50" x2="416.50" y2="298.50" stroke="#808080" stroke-width="1" stroke-dasharray="4.0 2.4 1.2 2.8"/><line x1="248.00" y1="319.50" x2="416.50" y2="319.50" stroke="#808080" stroke-width="1" stroke-dasharray="4.0 2.4 1.2 2.8"/><line x1="247.80" y1="277.50" x2="416.80" y2="277.50" stroke="#b4b4b4" stroke-width="1.1"/><line x1="275.50" y1="277.50" x2="275.50" y2="280.00" stroke="#999" stroke-width="1"/><line x1="304.50" y1="277.50" x2="304.50" y2="280.00" stroke="#999" stroke-width="1"/><line x1="332.50" y1="277.50" x2="332.50" y2="280.00" stroke="#999" stroke-width="1"/><line x1="360.50" y1="277.50" x2="360.50" y2="280.00" stroke="#999" stroke-width="1"/><line x1="388.50" y1="277.50" x2="388.50" y2="280.00" stroke="#999" stroke-width="1"/><rect x="247.50" y="215.50" width="169.00" height="125.00" fill="none" stroke="#999" stroke-width="1"/><text transform="translate(243.40 219.20) scale(0.93 1)" text-anchor="end" font-size="7.9" fill="#1a1a1a" stroke="#1a1a1a" stroke-width="0.18">60</text><text transform="translate(243.40 240.12) scale(0.93 1)" text-anchor="end" font-size="7.9" fill="#1a1a1a" stroke="#1a1a1a" stroke-width="0.18">40</text><text transform="translate(243.40 261.03) scale(0.93 1)" text-anchor="end" font-size="7.9" fill="#1a1a1a" stroke="#1a1a1a" stroke-width="0.18">20</text><text transform="translate(243.40 281.95) scale(0.93 1)" text-anchor="end" font-size="7.9" fill="#1a1a1a" stroke="#1a1a1a" stroke-width="0.18">0</text><text transform="translate(243.40 302.87) scale(0.93 1)" text-anchor="end" font-size="7.9" fill="#1a1a1a" stroke="#1a1a1a" stroke-width="0.18">-20</text><text transform="translate(243.40 323.78) scale(0.93 1)" text-anchor="end" font-size="7.9" fill="#1a1a1a" stroke="#1a1a1a" stroke-width="0.18">-40</text><text transform="translate(243.40 344.70) scale(0.93 1)" text-anchor="end" font-size="7.9" fill="#1a1a1a" stroke="#1a1a1a" stroke-width="0.18">-60</text><text transform="translate(247.80 351.50) scale(0.93 1)" text-anchor="middle" font-size="7.8" fill="#1a1a1a" stroke="#1a1a1a" stroke-width="0.18">0</text><text transform="translate(277.27 351.50) scale(0.93 1)" text-anchor="middle" font-size="7.8" fill="#1a1a1a" stroke="#1a1a1a" stroke-width="0.18">1</text><text transform="translate(304.73 351.50) scale(0.93 1)" text-anchor="middle" font-size="7.8" fill="#1a1a1a" stroke="#1a1a1a" stroke-width="0.18">2</text><text transform="translate(332.90 351.50) scale(0.93 1)" text-anchor="middle" font-size="7.8" fill="#1a1a1a" stroke="#1a1a1a" stroke-width="0.18">3</text><text transform="translate(361.17 351.50) scale(0.93 1)" text-anchor="middle" font-size="7.8" fill="#1a1a1a" stroke="#1a1a1a" stroke-width="0.18">4</text><text transform="translate(388.63 351.50) scale(0.93 1)" text-anchor="middle" font-size="7.8" fill="#1a1a1a" stroke="#1a1a1a" stroke-width="0.18">5</text><text transform="translate(416.80 351.50) scale(0.93 1)" text-anchor="middle" font-size="7.8" fill="#1a1a1a" stroke="#1a1a1a" stroke-width="0.18">6</text><text x="277.80" y="362.50" font-size="7.22" fill="#1a1a1a" stroke="#1a1a1a" stroke-width="0.18">Mean local temperature change (°C)</text><text x="295.20" y="207.00" font-size="8" fill="#1a1a1a" stroke="#1a1a1a" stroke-width="0.18">(d) Wheat, low latitude</text><path d="M276.10 268.30 L278.98 268.51 L281.87 268.76 L284.75 269.06 L287.64 269.41 L290.52 269.80 L293.41 270.24 L296.29 270.73 L299.18 271.27 L302.06 271.85 L304.95 272.49 L307.83 273.16 L310.72 273.89 L313.60 274.66 L316.48 275.49 L319.37 276.35 L322.25 277.27 L325.14 278.23 L328.02 279.24 L330.91 280.30 L333.79 281.41 L336.68 282.56 L339.56 283.76 L342.45 285.01 L345.33 286.30 L348.22 287.64 L351.10 289.03 L353.98 290.47 L356.87 291.95 L359.75 293.48 L362.64 295.06 L365.52 296.69 L368.41 298.36 L371.29 300.08 L374.18 301.85 L377.06 303.67 L379.95 305.53 L382.83 307.44 L385.72 309.40 L388.60 311.40" fill="none" stroke="#3f9040" stroke-width="1.2"/><path d="M276.10 271.40 L278.98 272.71 L281.87 274.03 L284.75 275.35 L287.64 276.69 L290.52 278.03 L293.41 279.38 L296.29 280.73 L299.18 282.10 L302.06 283.47 L304.95 284.85 L307.83 286.24 L310.72 287.64 L313.60 289.05 L316.48 290.46 L319.37 291.88 L322.25 293.31 L325.14 294.75 L328.02 296.19 L330.91 297.65 L333.79 299.11 L336.68 300.58 L339.56 302.06 L342.45 303.54 L345.33 305.04 L348.22 306.54 L351.10 308.05 L353.98 309.56 L356.87 311.09 L359.75 312.62 L362.64 314.16 L365.52 315.71 L368.41 317.27 L371.29 318.84 L374.18 320.41 L377.06 321.99 L379.95 323.58 L382.83 325.18 L385.72 326.79 L388.60 328.40" fill="none" stroke="#f26b33" stroke-width="1.2"/><rect x="274.75" y="246.80" width="2.7" height="2.8" fill="#2a642a" stroke="#143814" stroke-width="0.6"/><rect x="288.85" y="253.90" width="2.7" height="2.8" fill="#2a642a" stroke="#143814" stroke-width="0.6"/><rect x="302.45" y="248.80" width="2.7" height="2.8" fill="#2a642a" stroke="#143814" stroke-width="0.6"/><rect x="302.45" y="278.00" width="2.7" height="2.8" fill="#2a642a" stroke="#143814" stroke-width="0.6"/><rect x="307.05" y="281.30" width="2.7" height="2.8" fill="#2a642a" stroke="#143814" stroke-width="0.6"/><rect x="330.35" y="274.20" width="2.7" height="2.8" fill="#2a642a" stroke="#143814" stroke-width="0.6"/><rect x="288.85" y="288.20" width="2.7" height="2.8" fill="#2a642a" stroke="#143814" stroke-width="0.6"/><rect x="288.85" y="290.20" width="2.7" height="2.8" fill="#2a642a" stroke="#143814" stroke-width="0.6"/><rect x="358.85" y="243.80" width="2.7" height="2.8" fill="#2a642a" stroke="#143814" stroke-width="0.6"/><rect x="364.65" y="273.00" width="2.7" height="2.8" fill="#2a642a" stroke="#143814" stroke-width="0.6"/><rect x="364.65" y="275.30" width="2.7" height="2.8" fill="#2a642a" stroke="#143814" stroke-width="0.6"/><rect x="358.85" y="281.60" width="2.7" height="2.8" fill="#2a642a" stroke="#143814" stroke-width="0.6"/><rect x="358.85" y="283.60" width="2.7" height="2.8" fill="#2a642a" stroke="#143814" stroke-width="0.6"/><rect x="358.85" y="286.00" width="2.7" height="2.8" fill="#2a642a" stroke="#143814" stroke-width="0.6"/><rect x="338.55" y="289.90" width="2.7" height="2.8" fill="#2a642a" stroke="#143814" stroke-width="0.6"/><rect x="364.65" y="292.70" width="2.7" height="2.8" fill="#2a642a" stroke="#143814" stroke-width="0.6"/><rect x="364.65" y="296.00" width="2.7" height="2.8" fill="#2a642a" stroke="#143814" stroke-width="0.6"/><rect x="358.85" y="296.80" width="2.7" height="2.8" fill="#2a642a" stroke="#143814" stroke-width="0.6"/><rect x="358.85" y="300.10" width="2.7" height="2.8" fill="#2a642a" stroke="#143814" stroke-width="0.6"/><rect x="364.65" y="301.00" width="2.7" height="2.8" fill="#2a642a" stroke="#143814" stroke-width="0.6"/><rect x="364.65" y="303.50" width="2.7" height="2.8" fill="#2a642a" stroke="#143814" stroke-width="0.6"/><rect x="358.85" y="308.40" width="2.7" height="2.8" fill="#2a642a" stroke="#143814" stroke-width="0.6"/><rect x="364.65" y="305.90" width="2.7" height="2.8" fill="#2a642a" stroke="#143814" stroke-width="0.6"/><rect x="387.05" y="294.30" width="2.7" height="2.8" fill="#2a642a" stroke="#143814" stroke-width="0.6"/><rect x="387.05" y="296.80" width="2.7" height="2.8" fill="#2a642a" stroke="#143814" stroke-width="0.6"/><rect x="387.25" y="310.70" width="2.7" height="2.8" fill="#2a642a" stroke="#143814" stroke-width="0.6"/><rect x="387.25" y="312.80" width="2.7" height="2.8" fill="#2a642a" stroke="#143814" stroke-width="0.6"/><rect x="345.05" y="310.00" width="2.7" height="2.8" fill="#2a642a" stroke="#143814" stroke-width="0.6"/><rect x="387.25" y="332.70" width="2.7" height="2.8" fill="#2a642a" stroke="#143814" stroke-width="0.6"/><path d="M276.10 249.20 L278.40 251.50 L276.10 253.80 L273.80 251.50Z" fill="#f5581e" stroke="#8a3212" stroke-width="0.7"/><path d="M290.20 258.40 L292.50 260.70 L290.20 263.00 L287.90 260.70Z" fill="#f5581e" stroke="#8a3212" stroke-width="0.7"/><path d="M276.10 275.80 L278.40 278.10 L276.10 280.40 L273.80 278.10Z" fill="#f5581e" stroke="#8a3212" stroke-width="0.7"/><path d="M303.80 275.40 L306.10 277.70 L303.80 280.00 L301.50 277.70Z" fill="#f5581e" stroke="#8a3212" stroke-width="0.7"/><path d="M303.80 279.90 L306.10 282.20 L303.80 284.50 L301.50 282.20Z" fill="#f5581e" stroke="#8a3212" stroke-width="0.7"/><path d="M331.50 279.90 L333.80 282.20 L331.50 284.50 L329.20 282.20Z" fill="#f5581e" stroke="#8a3212" stroke-width="0.7"/><path d="M290.20 291.30 L292.50 293.60 L290.20 295.90 L287.90 293.60Z" fill="#f5581e" stroke="#8a3212" stroke-width="0.7"/><path d="M303.80 313.80 L306.10 316.10 L303.80 318.40 L301.50 316.10Z" fill="#f5581e" stroke="#8a3212" stroke-width="0.7"/><path d="M360.20 288.00 L362.50 290.30 L360.20 292.60 L357.90 290.30Z" fill="#f5581e" stroke="#8a3212" stroke-width="0.7"/><path d="M366.00 289.00 L368.30 291.30 L366.00 293.60 L363.70 291.30Z" fill="#f5581e" stroke="#8a3212" stroke-width="0.7"/><path d="M339.90 302.60 L342.20 304.90 L339.90 307.20 L337.60 304.90Z" fill="#f5581e" stroke="#8a3212" stroke-width="0.7"/><path d="M360.30 305.10 L362.60 307.40 L360.30 309.70 L358.00 307.40Z" fill="#f5581e" stroke="#8a3212" stroke-width="0.7"/><path d="M366.00 308.80 L368.30 311.10 L366.00 313.40 L363.70 311.10Z" fill="#f5581e" stroke="#8a3212" stroke-width="0.7"/><path d="M346.40 313.10 L348.70 315.40 L346.40 317.70 L344.10 315.40Z" fill="#f5581e" stroke="#8a3212" stroke-width="0.7"/><path d="M360.60 315.10 L362.90 317.40 L360.60 319.70 L358.30 317.40Z" fill="#f5581e" stroke="#8a3212" stroke-width="0.7"/><path d="M366.30 318.70 L368.60 321.00 L366.30 323.30 L364.00 321.00Z" fill="#f5581e" stroke="#8a3212" stroke-width="0.7"/><path d="M360.30 325.40 L362.60 327.70 L360.30 330.00 L358.00 327.70Z" fill="#f5581e" stroke="#8a3212" stroke-width="0.7"/><path d="M365.30 328.30 L367.60 330.60 L365.30 332.90 L363.00 330.60Z" fill="#f5581e" stroke="#8a3212" stroke-width="0.7"/><path d="M366.00 335.00 L368.30 337.30 L366.00 339.60 L363.70 337.30Z" fill="#f5581e" stroke="#8a3212" stroke-width="0.7"/><path d="M388.60 303.70 L390.90 306.00 L388.60 308.30 L386.30 306.00Z" fill="#f5581e" stroke="#8a3212" stroke-width="0.7"/><path d="M388.60 327.60 L390.90 329.90 L388.60 332.20 L386.30 329.90Z" fill="#f5581e" stroke="#8a3212" stroke-width="0.7"/><path d="M388.60 334.40 L390.90 336.70 L388.60 339.00 L386.30 336.70Z" fill="#f5581e" stroke="#8a3212" stroke-width="0.7"/></g><g font-family="Liberation Sans, sans-serif" stroke-linejoin="round"><line x1="34.00" y1="423.50" x2="202.50" y2="423.50" stroke="#808080" stroke-width="1" stroke-dasharray="4.6 2.5 1.2 2.7"/><line x1="34.00" y1="443.50" x2="202.50" y2="443.50" stroke="#808080" stroke-width="1" stroke-dasharray="4.6 2.5 1.2 2.7"/><line x1="34.00" y1="484.50" x2="202.50" y2="484.50" stroke="#808080" stroke-width="1" stroke-dasharray="4.6 2.5 1.2 2.7"/><line x1="34.00" y1="504.50" x2="202.50" y2="504.50" stroke="#808080" stroke-width="1" stroke-dasharray="4.6 2.5 1.2 2.7"/><line x1="33.60" y1="463.50" x2="202.60" y2="463.50" stroke="#b4b4b4" stroke-width="1.1"/><line x1="61.50" y1="463.50" x2="61.50" y2="466.00" stroke="#999" stroke-width="1"/><line x1="89.50" y1="463.50" x2="89.50" y2="466.00" stroke="#999" stroke-width="1"/><line x1="118.50" y1="463.50" x2="118.50" y2="466.00" stroke="#999" stroke-width="1"/><line x1="146.50" y1="463.50" x2="146.50" y2="466.00" stroke="#999" stroke-width="1"/><line x1="174.50" y1="463.50" x2="174.50" y2="466.00" stroke="#999" stroke-width="1"/><rect x="33.50" y="403.50" width="169.00" height="121.00" fill="none" stroke="#999" stroke-width="1"/><text transform="translate(28.10 406.70) scale(0.93 1)" text-anchor="end" font-size="7.9" fill="#1a1a1a" stroke="#1a1a1a" stroke-width="0.18">60</text><text transform="translate(28.10 426.87) scale(0.93 1)" text-anchor="end" font-size="7.9" fill="#1a1a1a" stroke="#1a1a1a" stroke-width="0.18">40</text><text transform="translate(28.10 447.03) scale(0.93 1)" text-anchor="end" font-size="7.9" fill="#1a1a1a" stroke="#1a1a1a" stroke-width="0.18">20</text><text transform="translate(28.10 467.20) scale(0.93 1)" text-anchor="end" font-size="7.9" fill="#1a1a1a" stroke="#1a1a1a" stroke-width="0.18">0</text><text transform="translate(28.10 487.37) scale(0.93 1)" text-anchor="end" font-size="7.9" fill="#1a1a1a" stroke="#1a1a1a" stroke-width="0.18">-20</text><text transform="translate(28.10 507.53) scale(0.93 1)" text-anchor="end" font-size="7.9" fill="#1a1a1a" stroke="#1a1a1a" stroke-width="0.18">-40</text><text transform="translate(28.10 527.70) scale(0.93 1)" text-anchor="end" font-size="7.9" fill="#1a1a1a" stroke="#1a1a1a" stroke-width="0.18">-60</text><text transform="translate(33.60 535.40) scale(0.93 1)" text-anchor="middle" font-size="7.8" fill="#1a1a1a" stroke="#1a1a1a" stroke-width="0.18">0</text><text transform="translate(63.07 535.40) scale(0.93 1)" text-anchor="middle" font-size="7.8" fill="#1a1a1a" stroke="#1a1a1a" stroke-width="0.18">1</text><text transform="translate(90.53 535.40) scale(0.93 1)" text-anchor="middle" font-size="7.8" fill="#1a1a1a" stroke="#1a1a1a" stroke-width="0.18">2</text><text transform="translate(118.70 535.40) scale(0.93 1)" text-anchor="middle" font-size="7.8" fill="#1a1a1a" stroke="#1a1a1a" stroke-width="0.18">3</text><text transform="translate(146.97 535.40) scale(0.93 1)" text-anchor="middle" font-size="7.8" fill="#1a1a1a" stroke="#1a1a1a" stroke-width="0.18">4</text><text transform="translate(174.43 535.40) scale(0.93 1)" text-anchor="middle" font-size="7.8" fill="#1a1a1a" stroke="#1a1a1a" stroke-width="0.18">5</text><text transform="translate(202.60 535.40) scale(0.93 1)" text-anchor="middle" font-size="7.8" fill="#1a1a1a" stroke="#1a1a1a" stroke-width="0.18">6</text><text x="61.70" y="545.90" font-size="7.22" fill="#1a1a1a" stroke="#1a1a1a" stroke-width="0.18">Mean local temperature change (°C)</text><text x="59.50" y="394.00" font-size="8" fill="#1a1a1a" stroke="#1a1a1a" stroke-width="0.18">(e) Rice, mid- to high-latitude</text><text x="0" y="0" transform="translate(9.8 455.90) rotate(-90)" text-anchor="middle" font-size="7.2" fill="#1a1a1a" stroke="#1a1a1a" stroke-width="0.18">% Yield Change</text><path d="M61.30 457.80 L64.20 457.17 L67.09 456.57 L69.99 456.02 L72.89 455.51 L75.79 455.03 L78.68 454.60 L81.58 454.20 L84.48 453.84 L87.38 453.53 L90.27 453.25 L93.17 453.01 L96.07 452.81 L98.97 452.65 L101.86 452.53 L104.76 452.45 L107.66 452.41 L110.56 452.40 L113.45 452.44 L116.35 452.52 L119.25 452.63 L122.15 452.79 L125.04 452.98 L127.94 453.21 L130.84 453.49 L133.74 453.80 L136.63 454.15 L139.53 454.54 L142.43 454.97 L145.33 455.44 L148.22 455.95 L151.12 456.50 L154.02 457.08 L156.92 457.71 L159.81 458.38 L162.71 459.08 L165.61 459.83 L168.51 460.61 L171.40 461.44 L174.30 462.30" fill="none" stroke="#3f9040" stroke-width="1.2"/><path d="M61.30 465.20 L64.20 464.23 L67.10 463.34 L70.00 462.52 L72.90 461.77 L75.80 461.09 L78.70 460.48 L81.60 459.95 L84.50 459.49 L87.40 459.09 L90.30 458.77 L93.20 458.53 L96.10 458.35 L99.00 458.24 L101.90 458.21 L104.80 458.25 L107.70 458.36 L110.60 458.54 L113.50 458.80 L116.40 459.12 L119.30 459.52 L122.20 459.99 L125.10 460.53 L128.00 461.14 L130.90 461.83 L133.80 462.58 L136.70 463.41 L139.60 464.31 L142.50 465.28 L145.40 466.33 L148.30 467.44 L151.20 468.63 L154.10 469.88 L157.00 471.21 L159.90 472.62 L162.80 474.09 L165.70 475.63 L168.60 477.25 L171.50 478.94 L174.40 480.70" fill="none" stroke="#f26b33" stroke-width="1.2"/><rect x="71.05" y="453.10" width="2.7" height="2.8" fill="#2a642a" stroke="#143814" stroke-width="0.6"/><rect x="90.95" y="455.30" width="2.7" height="2.8" fill="#2a642a" stroke="#143814" stroke-width="0.6"/><rect x="144.35" y="446.00" width="2.7" height="2.8" fill="#2a642a" stroke="#143814" stroke-width="0.6"/><rect x="144.35" y="448.20" width="2.7" height="2.8" fill="#2a642a" stroke="#143814" stroke-width="0.6"/><rect x="144.35" y="456.00" width="2.7" height="2.8" fill="#2a642a" stroke="#143814" stroke-width="0.6"/><rect x="144.35" y="458.50" width="2.7" height="2.8" fill="#2a642a" stroke="#143814" stroke-width="0.6"/><rect x="144.35" y="460.90" width="2.7" height="2.8" fill="#2a642a" stroke="#143814" stroke-width="0.6"/><rect x="144.35" y="463.40" width="2.7" height="2.8" fill="#2a642a" stroke="#143814" stroke-width="0.6"/><rect x="144.05" y="472.60" width="2.7" height="2.8" fill="#2a642a" stroke="#143814" stroke-width="0.6"/><rect x="150.45" y="440.20" width="2.7" height="2.8" fill="#2a642a" stroke="#143814" stroke-width="0.6"/><rect x="150.45" y="442.20" width="2.7" height="2.8" fill="#2a642a" stroke="#143814" stroke-width="0.6"/><rect x="150.45" y="444.40" width="2.7" height="2.8" fill="#2a642a" stroke="#143814" stroke-width="0.6"/><rect x="150.45" y="446.80" width="2.7" height="2.8" fill="#2a642a" stroke="#143814" stroke-width="0.6"/><rect x="150.45" y="458.50" width="2.7" height="2.8" fill="#2a642a" stroke="#143814" stroke-width="0.6"/><rect x="150.25" y="476.40" width="2.7" height="2.8" fill="#2a642a" stroke="#143814" stroke-width="0.6"/><rect x="172.95" y="446.00" width="2.7" height="2.8" fill="#2a642a" stroke="#143814" stroke-width="0.6"/><rect x="172.95" y="453.50" width="2.7" height="2.8" fill="#2a642a" stroke="#143814" stroke-width="0.6"/><rect x="172.95" y="457.60" width="2.7" height="2.8" fill="#2a642a" stroke="#143814" stroke-width="0.6"/><rect x="172.95" y="466.70" width="2.7" height="2.8" fill="#2a642a" stroke="#143814" stroke-width="0.6"/><rect x="173.05" y="475.40" width="2.7" height="2.8" fill="#2a642a" stroke="#143814" stroke-width="0.6"/><rect x="173.05" y="477.80" width="2.7" height="2.8" fill="#2a642a" stroke="#143814" stroke-width="0.6"/><rect x="124.45" y="443.90" width="2.7" height="2.8" fill="#2a642a" stroke="#143814" stroke-width="0.6"/><path d="M61.30 457.60 L63.60 459.90 L61.30 462.20 L59.00 459.90Z" fill="#f5581e" stroke="#8a3212" stroke-width="0.7"/><path d="M66.00 462.20 L68.30 464.50 L66.00 466.80 L63.70 464.50Z" fill="#f5581e" stroke="#8a3212" stroke-width="0.7"/><path d="M72.50 458.60 L74.80 460.90 L72.50 463.20 L70.20 460.90Z" fill="#f5581e" stroke="#8a3212" stroke-width="0.7"/><path d="M92.30 455.70 L94.60 458.00 L92.30 460.30 L90.00 458.00Z" fill="#f5581e" stroke="#8a3212" stroke-width="0.7"/><path d="M92.30 463.50 L94.60 465.80 L92.30 468.10 L90.00 465.80Z" fill="#f5581e" stroke="#8a3212" stroke-width="0.7"/><path d="M95.70 462.30 L98.00 464.60 L95.70 466.90 L93.40 464.60Z" fill="#f5581e" stroke="#8a3212" stroke-width="0.7"/><path d="M125.80 451.20 L128.10 453.50 L125.80 455.80 L123.50 453.50Z" fill="#f5581e" stroke="#8a3212" stroke-width="0.7"/><path d="M123.60 466.70 L125.90 469.00 L123.60 471.30 L121.30 469.00Z" fill="#f5581e" stroke="#8a3212" stroke-width="0.7"/><path d="M143.20 453.40 L145.50 455.70 L143.20 458.00 L140.90 455.70Z" fill="#f5581e" stroke="#8a3212" stroke-width="0.7"/><path d="M145.70 449.60 L148.00 451.90 L145.70 454.20 L143.40 451.90Z" fill="#f5581e" stroke="#8a3212" stroke-width="0.7"/><path d="M151.80 448.40 L154.10 450.70 L151.80 453.00 L149.50 450.70Z" fill="#f5581e" stroke="#8a3212" stroke-width="0.7"/><path d="M151.80 455.10 L154.10 457.40 L151.80 459.70 L149.50 457.40Z" fill="#f5581e" stroke="#8a3212" stroke-width="0.7"/><path d="M151.80 461.70 L154.10 464.00 L151.80 466.30 L149.50 464.00Z" fill="#f5581e" stroke="#8a3212" stroke-width="0.7"/><path d="M151.80 467.20 L154.10 469.50 L151.80 471.80 L149.50 469.50Z" fill="#f5581e" stroke="#8a3212" stroke-width="0.7"/><path d="M145.90 468.40 L148.20 470.70 L145.90 473.00 L143.60 470.70Z" fill="#f5581e" stroke="#8a3212" stroke-width="0.7"/><path d="M145.90 474.80 L148.20 477.10 L145.90 479.40 L143.60 477.10Z" fill="#f5581e" stroke="#8a3212" stroke-width="0.7"/><path d="M151.60 483.30 L153.90 485.60 L151.60 487.90 L149.30 485.60Z" fill="#f5581e" stroke="#8a3212" stroke-width="0.7"/><path d="M174.30 458.40 L176.60 460.70 L174.30 463.00 L172.00 460.70Z" fill="#f5581e" stroke="#8a3212" stroke-width="0.7"/><path d="M174.40 469.40 L176.70 471.70 L174.40 474.00 L172.10 471.70Z" fill="#f5581e" stroke="#8a3212" stroke-width="0.7"/><path d="M174.40 481.20 L176.70 483.50 L174.40 485.80 L172.10 483.50Z" fill="#f5581e" stroke="#8a3212" stroke-width="0.7"/><path d="M174.40 483.60 L176.70 485.90 L174.40 488.20 L172.10 485.90Z" fill="#f5581e" stroke="#8a3212" stroke-width="0.7"/><path d="M174.40 486.20 L176.70 488.50 L174.40 490.80 L172.10 488.50Z" fill="#f5581e" stroke="#8a3212" stroke-width="0.7"/><path d="M174.40 489.30 L176.70 491.60 L174.40 493.90 L172.10 491.60Z" fill="#f5581e" stroke="#8a3212" stroke-width="0.7"/></g><g font-family="Liberation Sans, sans-serif" stroke-linejoin="round"><line x1="248.00" y1="423.50" x2="416.50" y2="423.50" stroke="#808080" stroke-width="1" stroke-dasharray="4.3 2.5 1.2 2.6 1.2 2.6"/><line x1="248.00" y1="443.50" x2="416.50" y2="443.50" stroke="#808080" stroke-width="1" stroke-dasharray="4.3 2.5 1.2 2.6 1.2 2.6"/><line x1="248.00" y1="483.50" x2="416.50" y2="483.50" stroke="#808080" stroke-width="1" stroke-dasharray="4.3 2.5 1.2 2.6 1.2 2.6"/><line x1="248.00" y1="504.50" x2="416.50" y2="504.50" stroke="#808080" stroke-width="1" stroke-dasharray="4.3 2.5 1.2 2.6 1.2 2.6"/><line x1="247.80" y1="463.50" x2="416.80" y2="463.50" stroke="#b4b4b4" stroke-width="1.1"/><line x1="275.50" y1="463.50" x2="275.50" y2="466.00" stroke="#999" stroke-width="1"/><line x1="304.50" y1="463.50" x2="304.50" y2="466.00" stroke="#999" stroke-width="1"/><line x1="332.50" y1="463.50" x2="332.50" y2="466.00" stroke="#999" stroke-width="1"/><line x1="360.50" y1="463.50" x2="360.50" y2="466.00" stroke="#999" stroke-width="1"/><line x1="388.50" y1="463.50" x2="388.50" y2="466.00" stroke="#999" stroke-width="1"/><rect x="247.50" y="402.50" width="169.00" height="122.00" fill="none" stroke="#999" stroke-width="1"/><text transform="translate(241.80 405.90) scale(0.93 1)" text-anchor="end" font-size="7.9" fill="#1a1a1a" stroke="#1a1a1a" stroke-width="0.18">60</text><text transform="translate(241.80 426.18) scale(0.93 1)" text-anchor="end" font-size="7.9" fill="#1a1a1a" stroke="#1a1a1a" stroke-width="0.18">40</text><text transform="translate(241.80 446.47) scale(0.93 1)" text-anchor="end" font-size="7.9" fill="#1a1a1a" stroke="#1a1a1a" stroke-width="0.18">20</text><text transform="translate(241.80 466.75) scale(0.93 1)" text-anchor="end" font-size="7.9" fill="#1a1a1a" stroke="#1a1a1a" stroke-width="0.18">0</text><text transform="translate(241.80 487.03) scale(0.93 1)" text-anchor="end" font-size="7.9" fill="#1a1a1a" stroke="#1a1a1a" stroke-width="0.18">-20</text><text transform="translate(241.80 507.32) scale(0.93 1)" text-anchor="end" font-size="7.9" fill="#1a1a1a" stroke="#1a1a1a" stroke-width="0.18">-40</text><text transform="translate(241.80 527.60) scale(0.93 1)" text-anchor="end" font-size="7.9" fill="#1a1a1a" stroke="#1a1a1a" stroke-width="0.18">-60</text><text transform="translate(247.80 535.00) scale(0.93 1)" text-anchor="middle" font-size="7.8" fill="#1a1a1a" stroke="#1a1a1a" stroke-width="0.18">0</text><text transform="translate(277.27 535.00) scale(0.93 1)" text-anchor="middle" font-size="7.8" fill="#1a1a1a" stroke="#1a1a1a" stroke-width="0.18">1</text><text transform="translate(304.73 535.00) scale(0.93 1)" text-anchor="middle" font-size="7.8" fill="#1a1a1a" stroke="#1a1a1a" stroke-width="0.18">2</text><text transform="translate(332.90 535.00) scale(0.93 1)" text-anchor="middle" font-size="7.8" fill="#1a1a1a" stroke="#1a1a1a" stroke-width="0.18">3</text><text transform="translate(361.17 535.00) scale(0.93 1)" text-anchor="middle" font-size="7.8" fill="#1a1a1a" stroke="#1a1a1a" stroke-width="0.18">4</text><text transform="translate(388.63 535.00) scale(0.93 1)" text-anchor="middle" font-size="7.8" fill="#1a1a1a" stroke="#1a1a1a" stroke-width="0.18">5</text><text transform="translate(416.80 535.00) scale(0.93 1)" text-anchor="middle" font-size="7.8" fill="#1a1a1a" stroke="#1a1a1a" stroke-width="0.18">6</text><text x="275.50" y="545.00" font-size="7.22" fill="#1a1a1a" stroke="#1a1a1a" stroke-width="0.18">Mean local temperature change (°C)</text><text x="298.60" y="393.00" font-size="8" fill="#1a1a1a" stroke="#1a1a1a" stroke-width="0.18">(f) Rice, low latitude</text><path d="M275.60 454.00 L278.64 454.59 L281.68 455.16 L284.72 455.72 L287.76 456.26 L290.81 456.79 L293.85 457.30 L296.89 457.79 L299.93 458.27 L302.97 458.73 L306.01 459.18 L309.05 459.61 L312.09 460.02 L315.13 460.42 L318.17 460.80 L321.22 461.16 L324.26 461.51 L327.30 461.85 L330.34 462.16 L333.38 462.46 L336.42 462.75 L339.46 463.02 L342.50 463.27 L345.54 463.51 L348.58 463.73 L351.63 463.93 L354.67 464.12 L357.71 464.29 L360.75 464.45 L363.79 464.59 L366.83 464.71 L369.87 464.82 L372.91 464.91 L375.95 464.98 L378.99 465.04 L382.04 465.09 L385.08 465.11 L388.12 465.13 L391.16 465.12 L394.20 465.10" fill="none" stroke="#3f9040" stroke-width="1.2"/><path d="M275.60 461.50 L278.64 462.05 L281.68 462.60 L284.72 463.15 L287.76 463.69 L290.81 464.23 L293.85 464.77 L296.89 465.31 L299.93 465.85 L302.97 466.38 L306.01 466.91 L309.05 467.44 L312.09 467.96 L315.13 468.49 L318.17 469.01 L321.22 469.53 L324.26 470.04 L327.30 470.56 L330.34 471.07 L333.38 471.58 L336.42 472.09 L339.46 472.59 L342.50 473.10 L345.54 473.60 L348.58 474.10 L351.63 474.59 L354.67 475.09 L357.71 475.58 L360.75 476.07 L363.79 476.56 L366.83 477.04 L369.87 477.52 L372.91 478.00 L375.95 478.48 L378.99 478.96 L382.04 479.43 L385.08 479.90 L388.12 480.37 L391.16 480.84 L394.20 481.30" fill="none" stroke="#f26b33" stroke-width="1.2"/><rect x="274.25" y="448.80" width="2.7" height="2.8" fill="#2a642a" stroke="#143814" stroke-width="0.6"/><rect x="274.25" y="450.90" width="2.7" height="2.8" fill="#2a642a" stroke="#143814" stroke-width="0.6"/><rect x="274.25" y="453.40" width="2.7" height="2.8" fill="#2a642a" stroke="#143814" stroke-width="0.6"/><rect x="274.25" y="455.90" width="2.7" height="2.8" fill="#2a642a" stroke="#143814" stroke-width="0.6"/><rect x="302.95" y="429.90" width="2.7" height="2.8" fill="#2a642a" stroke="#143814" stroke-width="0.6"/><rect x="302.95" y="455.10" width="2.7" height="2.8" fill="#2a642a" stroke="#143814" stroke-width="0.6"/><rect x="302.95" y="457.60" width="2.7" height="2.8" fill="#2a642a" stroke="#143814" stroke-width="0.6"/><rect x="302.95" y="460.10" width="2.7" height="2.8" fill="#2a642a" stroke="#143814" stroke-width="0.6"/><rect x="302.95" y="462.00" width="2.7" height="2.8" fill="#2a642a" stroke="#143814" stroke-width="0.6"/><rect x="302.95" y="465.90" width="2.7" height="2.8" fill="#2a642a" stroke="#143814" stroke-width="0.6"/><rect x="330.35" y="454.00" width="2.7" height="2.8" fill="#2a642a" stroke="#143814" stroke-width="0.6"/><rect x="330.95" y="464.60" width="2.7" height="2.8" fill="#2a642a" stroke="#143814" stroke-width="0.6"/><rect x="358.85" y="421.90" width="2.7" height="2.8" fill="#2a642a" stroke="#143814" stroke-width="0.6"/><rect x="358.85" y="439.80" width="2.7" height="2.8" fill="#2a642a" stroke="#143814" stroke-width="0.6"/><rect x="358.85" y="447.10" width="2.7" height="2.8" fill="#2a642a" stroke="#143814" stroke-width="0.6"/><rect x="387.05" y="437.20" width="2.7" height="2.8" fill="#2a642a" stroke="#143814" stroke-width="0.6"/><rect x="387.05" y="449.80" width="2.7" height="2.8" fill="#2a642a" stroke="#143814" stroke-width="0.6"/><rect x="387.05" y="451.80" width="2.7" height="2.8" fill="#2a642a" stroke="#143814" stroke-width="0.6"/><rect x="387.05" y="458.10" width="2.7" height="2.8" fill="#2a642a" stroke="#143814" stroke-width="0.6"/><rect x="358.85" y="465.00" width="2.7" height="2.8" fill="#2a642a" stroke="#143814" stroke-width="0.6"/><rect x="358.85" y="470.10" width="2.7" height="2.8" fill="#2a642a" stroke="#143814" stroke-width="0.6"/><rect x="364.65" y="474.30" width="2.7" height="2.8" fill="#2a642a" stroke="#143814" stroke-width="0.6"/><rect x="364.65" y="477.10" width="2.7" height="2.8" fill="#2a642a" stroke="#143814" stroke-width="0.6"/><rect x="387.05" y="470.90" width="2.7" height="2.8" fill="#2a642a" stroke="#143814" stroke-width="0.6"/><rect x="392.85" y="473.80" width="2.7" height="2.8" fill="#2a642a" stroke="#143814" stroke-width="0.6"/><rect x="358.85" y="481.60" width="2.7" height="2.8" fill="#2a642a" stroke="#143814" stroke-width="0.6"/><rect x="358.85" y="487.20" width="2.7" height="2.8" fill="#2a642a" stroke="#143814" stroke-width="0.6"/><rect x="392.95" y="487.90" width="2.7" height="2.8" fill="#2a642a" stroke="#143814" stroke-width="0.6"/><path d="M275.60 456.20 L277.90 458.50 L275.60 460.80 L273.30 458.50Z" fill="#f5581e" stroke="#8a3212" stroke-width="0.7"/><path d="M275.60 467.20 L277.90 469.50 L275.60 471.80 L273.30 469.50Z" fill="#f5581e" stroke="#8a3212" stroke-width="0.7"/><path d="M275.60 468.70 L277.90 471.00 L275.60 473.30 L273.30 471.00Z" fill="#f5581e" stroke="#8a3212" stroke-width="0.7"/><path d="M304.30 463.30 L306.60 465.60 L304.30 467.90 L302.00 465.60Z" fill="#f5581e" stroke="#8a3212" stroke-width="0.7"/><path d="M304.30 466.60 L306.60 468.90 L304.30 471.20 L302.00 468.90Z" fill="#f5581e" stroke="#8a3212" stroke-width="0.7"/><path d="M304.30 469.70 L306.60 472.00 L304.30 474.30 L302.00 472.00Z" fill="#f5581e" stroke="#8a3212" stroke-width="0.7"/><path d="M304.30 486.30 L306.60 488.60 L304.30 490.90 L302.00 488.60Z" fill="#f5581e" stroke="#8a3212" stroke-width="0.7"/><path d="M331.70 459.00 L334.00 461.30 L331.70 463.60 L329.40 461.30Z" fill="#f5581e" stroke="#8a3212" stroke-width="0.7"/><path d="M332.30 468.40 L334.60 470.70 L332.30 473.00 L330.00 470.70Z" fill="#f5581e" stroke="#8a3212" stroke-width="0.7"/><path d="M360.20 461.10 L362.50 463.40 L360.20 465.70 L357.90 463.40Z" fill="#f5581e" stroke="#8a3212" stroke-width="0.7"/><path d="M360.20 466.10 L362.50 468.40 L360.20 470.70 L357.90 468.40Z" fill="#f5581e" stroke="#8a3212" stroke-width="0.7"/><path d="M360.20 472.20 L362.50 474.50 L360.20 476.80 L357.90 474.50Z" fill="#f5581e" stroke="#8a3212" stroke-width="0.7"/><path d="M360.20 474.20 L362.50 476.50 L360.20 478.80 L357.90 476.50Z" fill="#f5581e" stroke="#8a3212" stroke-width="0.7"/><path d="M360.20 481.80 L362.50 484.10 L360.20 486.40 L357.90 484.10Z" fill="#f5581e" stroke="#8a3212" stroke-width="0.7"/><path d="M360.20 489.00 L362.50 491.30 L360.20 493.60 L357.90 491.30Z" fill="#f5581e" stroke="#8a3212" stroke-width="0.7"/><path d="M366.20 486.80 L368.50 489.10 L366.20 491.40 L363.90 489.10Z" fill="#f5581e" stroke="#8a3212" stroke-width="0.7"/><path d="M360.20 496.80 L362.50 499.10 L360.20 501.40 L357.90 499.10Z" fill="#f5581e" stroke="#8a3212" stroke-width="0.7"/><path d="M388.40 465.80 L390.70 468.10 L388.40 470.40 L386.10 468.10Z" fill="#f5581e" stroke="#8a3212" stroke-width="0.7"/><path d="M388.40 467.50 L390.70 469.80 L388.40 472.10 L386.10 469.80Z" fill="#f5581e" stroke="#8a3212" stroke-width="0.7"/><path d="M388.40 473.60 L390.70 475.90 L388.40 478.20 L386.10 475.90Z" fill="#f5581e" stroke="#8a3212" stroke-width="0.7"/><path d="M388.40 480.20 L390.70 482.50 L388.40 484.80 L386.10 482.50Z" fill="#f5581e" stroke="#8a3212" stroke-width="0.7"/><path d="M394.30 483.50 L396.60 485.80 L394.30 488.10 L392.00 485.80Z" fill="#f5581e" stroke="#8a3212" stroke-width="0.7"/><path d="M394.30 496.80 L396.60 499.10 L394.30 501.40 L392.00 499.10Z" fill="#f5581e" stroke="#8a3212" stroke-width="0.7"/></g></svg></body></html>
